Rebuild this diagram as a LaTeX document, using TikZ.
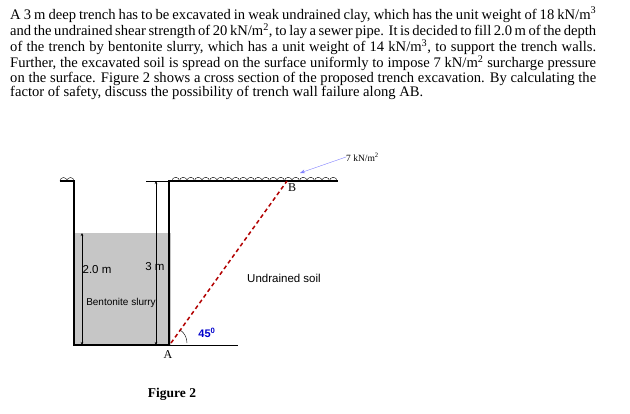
\documentclass[tikz,border=0pt]{standalone}
\usepackage{fontspec}
\setmainfont{Liberation Serif}
\setsansfont{Liberation Sans}
\usetikzlibrary{arrows.meta}
\begin{document}
\begin{tikzpicture}[x=1pt,y=-1pt,
  wall/.style={line width=1.6pt,line join=miter},
  dim/.style={thin,{Stealth[length=3pt,width=2.5pt]}-{Stealth[length=3pt,width=2.5pt]}},
  lbl/.style={font=\sffamily\fontsize{11.5}{11.5}\selectfont,inner sep=0},
  bump/.style={thin}]
\useasboundingbox (0,0) rectangle (630,413);
\node[anchor=north west,inner sep=0,text width=586pt,align=justify] (para) at (10,7)
 {\fontsize{14.6}{16.5}\selectfont A 3 m deep trench has to be excavated in weak undrained clay, which has the unit weight of 18 kN/m\textsuperscript{3} and the undrained shear strength of 20 kN/m\textsuperscript{2}, to lay a sewer pipe. It is decided to fill 2.0 m of the depth of the trench by bentonite slurry, which has a unit weight of 14 kN/m\textsuperscript{3}, to support the trench walls. Further, the excavated soil is spread on the surface uniformly to impose 7 kN/m\textsuperscript{2} surcharge pressure on the surface. Figure 2 shows a cross section of the proposed trench excavation. By calculating the factor of safety, discuss the possibility of trench wall failure along AB.};
% slurry
\fill[gray!45] (74,233) rectangle (171,345);
% walls
\draw[wall] (60,181) -- (74,181) -- (74,345) -- (169,345) -- (169,181) -- (338,181);
\draw[thin] (169,345) -- (238,345);
% bumps
\foreach \i in {0,1} \draw[bump] (60+\i*7,181) arc[start angle=180,end angle=360,radius=3.5];
\foreach \i in {0,...,21} \draw[bump] (172+\i*7.5,181) arc[start angle=180,end angle=360,radius=3.75];
% dimensions
\draw[dim] (82,233) -- (82,345);
\draw[dim] (156,181) -- (156,345);
\draw[thin] (146,181) -- (169,181);
% failure line
\coordinate (A0) at (171,343);
\coordinate (B0) at (287,181);
\draw[red!70!black,line width=1.5pt,dash pattern=on 4pt off 3pt] (A0) -- (B0);
\draw[thin] (A0) ++(-54:16) arc[start angle=-54,end angle=0,radius=16];
% labels
\node[lbl] (l20) at (97,270) {2.0 m};
\node[lbl] (l3) at (155,267) {3 m};
\node[lbl,font=\sffamily\fontsize{10}{10}\selectfont] (lbs) at (121,303) {Bentonite slurry};
\node[lbl] (lus) at (284,278) {Undrained soil};
\node[lbl,text=blue!80!black,font=\sffamily\bfseries\fontsize{11}{11}\selectfont] (l45) at (207,333) {45\textsuperscript{0}};
\node[inner sep=0,font=\fontsize{12}{12}\selectfont] (lA) at (168,355) {A};
\node[inner sep=0,font=\fontsize{12}{12}\selectfont] (lB) at (292,188) {B};
\node[inner sep=0,anchor=west,font=\fontsize{9.5}{9.5}\selectfont] (l7) at (346,157) {7 kN/m\textsuperscript{2}};
\draw[blue!50,-{Stealth[length=5pt]}] (l7.west) -- (300,173);
\node[inner sep=0,font=\bfseries\fontsize{13.5}{13.5}\selectfont] (fig) at (172,394) {Figure 2};
\end{tikzpicture}
\end{document}
